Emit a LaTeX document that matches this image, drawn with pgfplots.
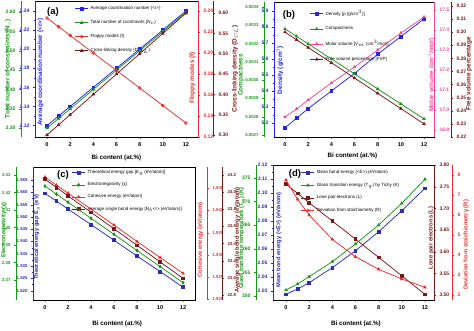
\documentclass[border=0pt]{standalone}
\usepackage{pgfplots}
\pgfplotsset{compat=1.18}
\usepackage{fontspec}
\setmainfont{Liberation Sans}
\definecolor{cblue}{RGB}{35,35,235}
\definecolor{cgreen}{RGB}{25,150,25}
\definecolor{cred}{RGB}{235,45,45}
\definecolor{cdred}{RGB}{120,25,25}
\definecolor{cpink}{RGB}{240,70,150}
\definecolor{cnavy}{RGB}{45,45,175}
\newcommand\myytl{\fontsize{5}{5.5}\selectfont\bfseries}
\newcommand\myytls{\fontsize{4.3}{5}\selectfont\bfseries}
\newcommand\myxtl{\fontsize{5.6}{6}\selectfont\bfseries}
\newcommand\myalA{\fontsize{6.4}{7}\selectfont\bfseries}
\newcommand\myalC{\fontsize{5.8}{6.5}\selectfont\bfseries}
\newcommand\myxl{\fontsize{6.3}{7}\selectfont\bfseries}
\newcommand\mylg{\fontsize{4.5}{5}\selectfont}
\newcommand\mypl{\fontsize{9.5}{10}\selectfont\bfseries}
% label node: font, colour, x px, y px (from top), text
\newcommand\yl[5]{\node[rotate=90, font=#1, text=#2, anchor=center, inner sep=0pt] at (#3pt,{330pt-#4pt}) {#5};}
\pgfplotsset{
  legend image code/.code={\draw[mark repeat=2,mark phase=2,#1] plot coordinates {(0pt,0pt)(6.5pt,0pt)(13pt,0pt)};},
  base/.style={scale only axis, anchor=south west, clip=false, tick align=outside,
    major tick length=2pt, minor tick length=1.1pt, scaled y ticks=false,
    /pgf/number format/assume math mode=true, axis line style={line width=0.6pt},
    yticklabel style={font=\myytl}, every axis plot/.append style={line width=0.75pt, mark size=1.4pt}},
  frame/.style={base, ymin=0, ymax=1, ytick=\empty, xtick={0,2,4,6,8,10,12}, minor x tick num=1,
    xtick pos=left, xticklabel style={font=\myxtl}, xlabel style={font=\myxl},
    xlabel={Bi content (at.\%)}, legend cell align=left,
    legend style={draw=none, fill=none, font=\mylg, inner sep=0.5pt, anchor=north west}},
  dat/.style={base, axis x line=none},
  yL/.style={dat, axis y line*=left},
  yR/.style={dat, axis y line*=right},
  sh/.style={y axis line style={xshift=#1}, ytick style={xshift=#1}, yticklabel style={xshift=#1}},
  fmt/.style={yticklabel style={/pgf/number format/fixed, /pgf/number format/fixed zerofill, /pgf/number format/precision=#1}},
  col/.style={y axis line style={draw=#1}, ytick style={draw=#1}, yticklabel style={text=#1}},
  lgi/.style={line width=0.75pt, mark size=1.4pt},
  pA/.style={at={(35pt,193pt)}, width=163pt, height=136pt, xmin=-1.04, xmax=13.04},
  pB/.style={at={(274pt,193pt)}, width=160pt, height=135pt, xmin=-0.95, xmax=12.86},
  pC/.style={at={(33pt,30pt)}, width=162pt, height=133pt, xmin=-1.04, xmax=13.04},
  pD/.style={at={(273pt,30pt)}, width=161pt, height=135pt, xmin=-1.12, xmax=12.78},
}
\begin{document}
\begin{tikzpicture}
\useasboundingbox (0,0) rectangle (474pt,330pt);
% ================= (a) =================
\begin{axis}[frame, pA, xlabel style={at={(axis description cs:0.5,-0.154)}, anchor=center},
  legend style={at={(axis description cs:0.24,0.98)}, row sep=5.2pt}]
\addlegendimage{cblue, mark=square*, lgi}
\addlegendentry{Average coordination number (<r>)}
\addlegendimage{cgreen, mark=triangle*, lgi}
\addlegendentry{Total number of constraints (N$_c$)}
\addlegendimage{cred, mark=o, lgi}
\addlegendentry{Floppy modes (f)}
\addlegendimage{cdred, mark=triangle*, lgi}
\addlegendentry{Cross-linking density (D$_{CL}$)}
\node[font=\mypl] at (rel axis cs:0.11,0.92) {(a)};
\end{axis}
\begin{axis}[yL, pA, col=cblue, fmt=2, ymin=2.108, ymax=2.2504, minor y tick num=1,
  ytick={2.12,2.14,2.16,2.18,2.20,2.22,2.24}]
\addplot[cblue, mark=square*] coordinates {(0,2.12)(1,2.13)(2,2.14)(4,2.16)(6,2.18)(8,2.20)(10,2.22)(12,2.24)};
\end{axis}
\begin{axis}[yL, pA, sh=-14pt, col=cgreen, fmt=2, ymin=2.277, ymax=2.629,
  ytick={2.30,2.35,2.40,2.45,2.50,2.55,2.60}]
\addplot[cgreen, mark=triangle*] coordinates {(0,2.30)(1,2.325)(2,2.35)(4,2.40)(6,2.45)(8,2.50)(10,2.55)(12,2.60)};
\end{axis}
\begin{axis}[yR, pA, col=cred, fmt=2, ymin=0.12, ymax=0.2495, minor y tick num=1,
  ytick={0.12,0.14,0.16,0.18,0.20,0.22,0.24}]
\addplot[cred, mark=o] coordinates {(0,0.2333)(1,0.2250)(2,0.2167)(4,0.2000)(6,0.1833)(8,0.1667)(10,0.1500)(12,0.1333)};
\end{axis}
\begin{axis}[yR, pA, sh=15pt, col=cdred, fmt=2, ymin=0.295, ymax=0.63,
  ytick={0.30,0.35,0.40,0.45,0.50,0.55,0.60}]
\addplot[cdred, mark=triangle*] coordinates {(0,0.30)(1,0.325)(2,0.35)(4,0.40)(6,0.45)(8,0.50)(10,0.55)(12,0.60)};
\end{axis}
% ================= (b) =================
\begin{axis}[frame, pB, xlabel style={at={(axis description cs:0.49,-0.14)}, anchor=center},
  legend style={at={(axis description cs:0.22,0.958)}, row sep=5.5pt}]
\addlegendimage{cblue, mark=square*, lgi}
\addlegendentry{Density [ρ (g/cm$^3$)]}
\addlegendimage{cgreen, mark=triangle, lgi}
\addlegendentry{Compactness}
\addlegendimage{cpink, mark=triangle, lgi}
\addlegendentry{Molar volume [V$_m$ (cm$^3$/mol)]}
\addlegendimage{cdred, mark=triangle*, lgi}
\addlegendentry{Free volume percentage [FVP]}
\node[font=\mypl] at (rel axis cs:0.094,0.904) {(b)};
\end{axis}
\begin{axis}[yL, pB, col=cblue, fmt=1, ymin=5.1125, ymax=5.956, minor y tick num=1,
  ytick={5.2,5.3,5.4,5.5,5.6,5.7,5.8,5.9}]
\addplot[cblue, mark=square*] coordinates {(0,5.17)(1,5.23)(2,5.29)(4,5.40)(6,5.51)(8,5.63)(10,5.74)(12,5.85)};
\end{axis}
\begin{axis}[yL, pB, sh=-10pt, col=cgreen, fmt=4, ymin=0.002689, ymax=0.003427,
  yticklabel style={font=\myytls},
  ytick={0.0027,0.0028,0.0029,0.0030,0.0031,0.0032,0.0033,0.0034}]
\addplot[cgreen, mark=triangle] coordinates {(0,0.003280)(1,0.003239)(2,0.003198)(4,0.003116)(6,0.003034)(8,0.002952)(10,0.002870)(12,0.002788)};
\end{axis}
\begin{axis}[yR, pB, col=cpink, fmt=1, ymin=16.865, ymax=17.54, minor y tick num=1,
  ytick={16.9,17.0,17.1,17.2,17.3,17.4,17.5}]
\addplot[cpink, mark=triangle] coordinates {(0,16.965)(1,17.005)(2,17.05)(4,17.135)(6,17.215)(8,17.30)(10,17.385)(12,17.465)};
\end{axis}
\begin{axis}[yR, pB, sh=17pt, col=cdred, fmt=2, ymin=0.22, ymax=0.323,
  ytick={0.22,0.23,0.24,0.25,0.26,0.27,0.28,0.29,0.30,0.31,0.32}]
\addplot[cdred, mark=triangle*] coordinates {(0,0.300)(1,0.2942)(2,0.2883)(4,0.2767)(6,0.2650)(8,0.2533)(10,0.2417)(12,0.2300)};
\end{axis}
% ================= (c) =================
\begin{axis}[frame, pC, xlabel style={at={(axis description cs:0.52,-0.18)}, anchor=center},
  legend style={at={(axis description cs:0.235,0.995)}, row sep=3.4pt}]
\addlegendimage{cnavy, mark=square*, lgi}
\addlegendentry{Theoretical energy gap [E$_g$ (eV/atom)]}
\addlegendimage{cgreen, mark=diamond*, lgi}
\addlegendentry{Electronegativity (χ)}
\addlegendimage{cred, mark=triangle*, lgi}
\addlegendentry{Cohesive energy (eV/atom)}
\addlegendimage{cdred, mark=square*, lgi}
\addlegendentry{Average single bond energy [N$_b$<r> (eV/atom)]}
\node[font=\mypl] at (rel axis cs:0.185,0.94) {(c)};
\end{axis}
\begin{axis}[yL, pC, col=cnavy, fmt=3, ymin=1.5162, ymax=1.5703, minor y tick num=1,
  ytick={1.520,1.525,1.530,1.535,1.540,1.545,1.550,1.555,1.560,1.565}, yticklabel style={font=\myytls}]
\addplot[cnavy, mark=square*] coordinates {(0,1.5596)(1,1.5564)(2,1.5532)(4,1.5469)(6,1.5405)(8,1.5341)(10,1.5278)(12,1.5214)};
\end{axis}
\begin{axis}[yL, pC, sh=-17pt, col=cgreen, fmt=2, ymin=2.3586, ymax=2.4346,
  ytick={2.37,2.38,2.39,2.40,2.41,2.42,2.43}, yticklabel style={font=\myytls}]
\addplot[cgreen, mark=diamond*] coordinates {(0,2.4237)(1,2.4191)(2,2.4145)(4,2.4053)(6,2.3961)(8,2.3869)(10,2.3777)(12,2.3685)};
\end{axis}
\begin{axis}[yR, pC, sh=12pt, col=cred, fmt=3, ymin=1.9198, ymax=1.9498,
  ytick={1.920,1.925,1.930,1.935,1.940,1.945,1.950}, yticklabel style={font=\myytls}]
\addplot[cred, mark=triangle*] coordinates {(0,1.9475)(1,1.9457)(2,1.9439)(4,1.9403)(6,1.9367)(8,1.9330)(10,1.9294)(12,1.9258)};
\end{axis}
\begin{axis}[yR, pC, sh=27pt, col=cdred, fmt=1, ymin=22.742, ymax=24.293,
  ytick={22.8,23.0,23.2,23.4,23.6,23.8,24.0,24.2}, yticklabel style={font=\myytls}]
\addplot[cdred, mark=square*] coordinates {(0,24.150)(1,24.054)(2,23.957)(4,23.765)(6,23.572)(8,23.380)(10,23.187)(12,22.995)};
\end{axis}
% ================= (d) =================
\begin{axis}[frame, pD, xlabel style={at={(axis description cs:0.515,-0.178)}, anchor=center},
  legend style={at={(axis description cs:0.17,0.98)}, row sep=3.8pt}]
\addlegendimage{cnavy, mark=square*, lgi}
\addlegendentry{Mean bond energy (<E>) (eV/atom)}
\addlegendimage{cgreen, mark=triangle*, lgi}
\addlegendentry{Glass transition energy (T$_g$) by Tichy (K)}
\addlegendimage{cdred, mark=square*, lgi}
\addlegendentry{Lone pair electrons (L)}
\addlegendimage{cred, mark=triangle*, lgi}
\addlegendentry{Deviation from stoichiometry (R)}
\node[font=\mypl] at (rel axis cs:0.137,0.933) {(d)};
\end{axis}
\begin{axis}[yL, pD, col=cnavy, fmt=2, ymin=2.0233, ymax=2.12, minor y tick num=1,
  ytick={2.03,2.04,2.05,2.06,2.07,2.08,2.09,2.10,2.11,2.12}]
\addplot[cnavy, mark=square*] coordinates {(0,2.0274)(1,2.0312)(2,2.0357)(4,2.0465)(6,2.0586)(8,2.0722)(10,2.0873)(12,2.1033)};
\end{axis}
\begin{axis}[yL, pD, sh=-17pt, col=cgreen, fmt=0, ymin=349.15, ymax=377.75,
  ytick={350,355,360,365,370,375}]
\addplot[cgreen, mark=triangle*] coordinates {(0,351.27)(1,352.54)(2,354.09)(4,357.27)(6,361.02)(8,365.04)(10,369.64)(12,374.72)};
\end{axis}
\begin{axis}[yR, pD, col=cdred, fmt=2, ymin=3.4885, ymax=3.80, minor y tick num=1,
  ytick={3.50,3.55,3.60,3.65,3.70,3.75,3.80}]
\addplot[cdred, mark=square*] coordinates {(0,3.756)(1,3.7346)(2,3.713)(4,3.6707)(6,3.629)(8,3.5868)(10,3.5444)(12,3.5014)};
\end{axis}
\begin{axis}[yR, pD, sh=18pt, col=cred, fmt=0, ymin=1.75, ymax=8.5,
  ytick={2,3,4,5,6,7,8}]
\addplot[cred, mark=triangle*] coordinates {(0,7.75)(1,6.785)(2,6.0)(4,4.785)(6,3.915)(8,3.285)(10,2.8)(12,2.385)};
\end{axis}
% ================= axis titles =================
\yl{\myalA}{cgreen}{8}{69}{Total number of constraints (N$_c$)}
\yl{\myalA}{cblue}{40.5}{72}{Average coordination number (<r>)}
\yl{\myalA}{cred}{192.5}{78}{Floppy modes (f)}
\yl{\myalA}{cdred}{235}{69}{Cross-linking density (D$_{CL}$)}
\yl{\myalA}{cgreen}{241}{75}{Compactness}
\yl{\myalA}{cblue}{280}{70}{Density (g/cm$^3$)}
\yl{\myalA}{cpink}{431.5}{75}{Molar volume (cm$^3$/mol)}
\yl{\myalA}{cdred}{469}{74}{Free volume percentage}
\yl{\myalC}{cgreen}{4}{230}{Electronegativity (χ)}
\yl{\myalC}{cnavy}{37}{237}{Theoretical energy gap E$_g$ (eV)}
\yl{\myalC}{cred}{200.5}{240}{Cohesive energy (eV/atom)}
\yl{\myalC}{cdred}{237.5}{240}{Average single bond energy (eV/atom)}
\yl{\myalC}{cgreen}{242}{238}{Glass transition temperature (T$_g$) (K)}
\yl{\myalC}{cnavy}{279}{240}{Mean bond energy (<E>) (eV/atom)}
\yl{\myalC}{cdred}{431}{238}{Lone pair electrons (L)}
\yl{\myalC}{cred}{466}{245}{Deviation from stoichiometry (R)}
\end{tikzpicture}
\end{document}
